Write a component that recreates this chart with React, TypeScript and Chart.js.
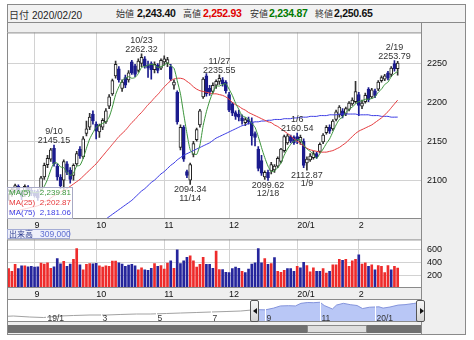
import React, { useEffect, useRef } from 'react';
import { Chart, registerables } from 'chart.js';

Chart.register(...registerables);

const NARROW = "'Liberation Sans Narrow', 'Liberation Sans', Arial, sans-serif";
const SANS = "'Liberation Sans', Arial, sans-serif";
const CJK = "'Noto Sans CJK JP', 'Noto Sans', sans-serif";

// ---------- categories: trading days ----------
const DAYS_2019_08 = [21, 22, 23, 26, 27, 28, 29, 30];
const DAYS_2019_09 = [2, 3, 4, 5, 6, 9, 10, 11, 12, 13, 17, 18, 19, 20, 24, 25, 26, 27, 30];
const DAYS_2019_10 = [1, 2, 3, 4, 7, 8, 9, 10, 11, 15, 16, 17, 18, 21, 23, 24, 25, 28, 29, 30, 31];
const DAYS_2019_11 = [1, 5, 6, 7, 8, 11, 12, 13, 14, 15, 18, 19, 20, 21, 22, 25, 26, 27, 28, 29];
const DAYS_2019_12 = [2, 3, 4, 5, 6, 9, 10, 11, 12, 13, 16, 17, 18, 19, 20, 23, 24, 25, 26, 27, 30];
const DAYS_2020_01 = [6, 7, 8, 9, 10, 14, 15, 16, 17, 20, 21, 22, 23, 24, 27, 28, 29, 30, 31];
const DAYS_2020_02 = [3, 4, 5, 6, 7, 10, 12, 13, 14, 17, 18, 19, 20];
const EMPTY_SLOTS = 7;

const MONTH_BLOCKS: Array<[string, number[]]> = [
  ['2019/08', DAYS_2019_08], ['2019/09', DAYS_2019_09], ['2019/10', DAYS_2019_10],
  ['2019/11', DAYS_2019_11], ['2019/12', DAYS_2019_12], ['2020/01', DAYS_2020_01], ['2020/02', DAYS_2020_02],
];
const DATES: string[] = MONTH_BLOCKS.flatMap(([ym, days]) => days.map((d) => `${ym}/${String(d).padStart(2, '0')}`));
const LABELS: string[] = [...DATES, ...Array(EMPTY_SLOTS).fill('')];

const MONTH_TICK_DATES = ['2019/09/02', '2019/10/01', '2019/11/01', '2019/12/02', '2020/01/06', '2020/02/03'];
const MONTH_TICK_LABELS = ['9', '10', '11', '12', '20/1', '2'];
const PRICE_TICKS = [2100, 2150, 2200, 2250];
const VOLUME_TICKS = [200, 400, 600];

// ---------- price series ----------
const OPEN = [
  2082, 2085, 2087, 2092, 2084, 2081, 2091, 2087,
  2084, 2086, 2088, 2104, 2120, 2127, 2141, 2118, 2104, 2100, 2121, 2113, 2106, 2121, 2140, 2130, 2160, 2168, 2185,
  2172, 2162, 2168, 2175, 2195, 2211, 2234, 2243, 2218, 2232, 2229, 2252, 2247, 2241, 2250, 2256, 2248, 2250, 2242, 2248, 2244,
  2252, 2250, 2246, 2222, 2213, 2142, 2168, 2111, 2100, 2133, 2152, 2171, 2207, 2234, 2218, 2214, 2222, 2227, 2229, 2226,
  2210, 2198, 2187, 2185, 2180, 2174, 2178, 2175, 2160, 2140, 2125, 2104, 2110, 2112, 2113, 2118, 2124, 2138, 2148, 2156, 2155,
  2156, 2149, 2150, 2122, 2126, 2129, 2134, 2137, 2149, 2161, 2168, 2166, 2178, 2184, 2189, 2185, 2191, 2198, 2201,
  2210, 2195, 2201, 2217, 2207, 2215, 2217, 2228, 2230, 2238, 2236, 2250, 2243.40,
];
const HIGH = [
  2088, 2090, 2095, 2094, 2087, 2094, 2093, 2090,
  2087, 2088, 2105, 2122, 2132, 2141, 2145.15, 2121, 2107, 2126, 2124, 2116, 2121, 2137, 2143, 2156, 2176, 2186, 2189,
  2175, 2172, 2179, 2192, 2210, 2230, 2253, 2246, 2229, 2235, 2241, 2254, 2249, 2256, 2262.32, 2259, 2253, 2252, 2252, 2250, 2256,
  2260, 2258, 2249, 2229, 2215, 2171, 2170, 2113, 2122, 2150, 2167, 2191, 2232, 2237, 2222, 2225, 2229, 2235.55, 2232, 2228,
  2213, 2200, 2189, 2190, 2184, 2180, 2181, 2180, 2162, 2143, 2132, 2112, 2113, 2123, 2120, 2130, 2141, 2158, 2159, 2158, 2157,
  2160.54, 2158, 2153, 2130, 2134, 2137, 2136, 2148, 2160, 2170, 2171, 2178, 2190, 2196, 2192, 2194, 2201, 2206, 2227,
  2213, 2203, 2212, 2219, 2218, 2217, 2228, 2234, 2236, 2240, 2246, 2253.79, 2252.93,
];
const LOW = [
  2074, 2079, 2084, 2083, 2075, 2079, 2084, 2080,
  2078, 2074, 2086, 2101, 2116, 2124, 2118, 2100, 2089, 2088, 2107, 2096, 2100, 2119, 2128, 2128, 2157, 2165, 2172,
  2153, 2155, 2165, 2173, 2192, 2209, 2231, 2226, 2214, 2219, 2226, 2236, 2233, 2239, 2246, 2244, 2232, 2230, 2238, 2238, 2242,
  2248, 2246, 2228, 2217, 2172, 2139, 2124, 2103, 2094.34, 2130, 2150, 2168, 2205, 2208, 2209, 2212, 2218, 2223, 2221, 2212,
  2188, 2183, 2178, 2176, 2172, 2170, 2172, 2145, 2144, 2112, 2106, 2101, 2099.62, 2108, 2110, 2116, 2122, 2136, 2146, 2148, 2146,
  2147, 2146, 2116, 2112.87, 2124, 2127, 2128, 2135, 2147, 2159, 2160, 2164, 2176, 2181, 2180, 2183, 2189, 2196, 2199,
  2183, 2192, 2199, 2201, 2205, 2206, 2215, 2226, 2228, 2229, 2233, 2240, 2234.87,
];
const CLOSE = [
  2086, 2088, 2093, 2085, 2079, 2092, 2086, 2083,
  2080, 2077, 2103, 2119, 2128, 2139, 2121, 2104, 2093, 2124, 2110, 2101, 2119, 2134, 2131, 2153, 2166, 2181, 2176,
  2163, 2170, 2177, 2189, 2207, 2228, 2249, 2229, 2226, 2222, 2238, 2238, 2236, 2253, 2258, 2247, 2244, 2242, 2249, 2241, 2254,
  2256, 2255, 2230, 2226, 2175, 2168, 2127, 2106, 2120, 2147, 2165, 2189, 2230, 2211, 2213, 2222, 2227, 2231, 2224, 2215,
  2190, 2186, 2182, 2181, 2176, 2178, 2175, 2157, 2155, 2115, 2109, 2110, 2103, 2120, 2118, 2128, 2140, 2156, 2157, 2150, 2148,
  2151, 2155, 2119, 2127, 2131, 2134, 2130, 2146, 2158, 2168, 2163, 2176, 2188, 2194, 2183, 2192, 2199, 2203, 2214,
  2196, 2199, 2209, 2203, 2216, 2209, 2226, 2232, 2234, 2231, 2244, 2243, 2250.65,
];

const MA5 = [
  2083, 2084, 2085, 2085, 2086, 2087, 2087, 2085,
  2084, 2084, 2086, 2092, 2101, 2113, 2122, 2122, 2117, 2116, 2110, 2106, 2109, 2118, 2119, 2128, 2141, 2153, 2161,
  2168, 2171, 2173, 2175, 2181, 2194, 2210, 2220, 2228, 2231, 2233, 2231, 2232, 2237, 2245, 2246, 2248, 2249, 2248, 2245, 2246,
  2248, 2251, 2247, 2244, 2228, 2211, 2185, 2160, 2139, 2134, 2133, 2145, 2170, 2188, 2202, 2213, 2221, 2221, 2223, 2224,
  2217, 2209, 2199, 2191, 2183, 2181, 2178, 2173, 2168, 2156, 2142, 2129, 2118, 2111, 2112, 2116, 2122, 2132, 2140, 2146, 2150,
  2152, 2152, 2145, 2140, 2137, 2133, 2128, 2134, 2140, 2147, 2153, 2162, 2171, 2178, 2181, 2187, 2191, 2194, 2198,
  2201, 2202, 2204, 2204, 2205, 2207, 2213, 2217, 2223, 2226, 2233, 2237, 2239.81,
];
const MA25 = [
  2060, 2060, 2061, 2061, 2062, 2063, 2064, 2065,
  2066, 2067, 2069, 2072, 2074, 2077, 2080, 2082, 2085, 2087, 2089, 2092, 2095, 2098, 2101, 2105, 2109, 2113, 2117,
  2121, 2126, 2131, 2136, 2141, 2146, 2151, 2156, 2160, 2164, 2169, 2174, 2178, 2183, 2187, 2192, 2197, 2201, 2206, 2210, 2215,
  2220, 2224, 2228, 2230, 2231, 2231, 2230, 2227, 2224, 2220, 2217, 2215, 2214, 2213, 2212, 2211, 2211, 2210, 2209, 2207,
  2204, 2200, 2197, 2195, 2192, 2190, 2187, 2185, 2183, 2181, 2179, 2177, 2175, 2174, 2171, 2169, 2166, 2163, 2160, 2157, 2153,
  2150, 2147, 2144, 2141, 2139, 2138, 2137, 2136, 2136, 2136, 2137, 2138, 2140, 2142, 2145, 2148, 2152, 2156, 2160,
  2163, 2165, 2167, 2169, 2171, 2174, 2177, 2180, 2184, 2188, 2193, 2198, 2202.87,
];
const MA75 = [
  1985, 1987, 1989, 1991, 1993, 1995, 1997, 1999,
  2001, 2003, 2005, 2007, 2009, 2011, 2013, 2015, 2018, 2020, 2022, 2024, 2027, 2029, 2031, 2033, 2036, 2038, 2040,
  2042, 2045, 2047, 2050, 2053, 2056, 2059, 2062, 2065, 2068, 2071, 2074, 2078, 2082, 2086, 2089, 2093, 2097, 2100, 2104, 2108,
  2111, 2115, 2119, 2122, 2126, 2129, 2132, 2134, 2136, 2138, 2140, 2142, 2144, 2146, 2148, 2151, 2154, 2156, 2158, 2160,
  2162, 2164, 2166, 2168, 2170, 2171, 2173, 2174, 2175, 2175, 2176, 2176, 2177, 2177, 2178, 2178, 2178, 2179, 2179, 2179, 2180,
  2180, 2181, 2181, 2181, 2182, 2182, 2182, 2183, 2183, 2183, 2184, 2184, 2184, 2185, 2185, 2185, 2185, 2185, 2185,
  2184, 2184, 2184, 2184, 2183, 2183, 2183, 2182, 2182, 2182, 2181, 2181, 2181.06,
];

// ---------- volume (thousand shares) ----------
const VOLUME = [
  300, 258, 366, 300, 343, 343, 326, 334,
  322, 326, 386, 369, 390, 305, 326, 453, 373, 411, 334, 369, 441, 610, 356, 280, 364, 377, 373,
  381, 343, 322, 343, 334, 415, 415, 390, 369, 334, 352, 364, 343, 280, 313, 280, 271, 305, 377, 334, 347,
  292, 386, 419, 305, 589, 377, 419, 474, 495, 419, 322, 364, 474, 364, 364, 305, 568, 284, 284, 242,
  237, 300, 322, 305, 258, 237, 292, 369, 390, 610, 390, 453, 364, 377, 470, 258, 242, 271, 300, 300, 258,
  335, 313, 398, 347, 250, 313, 258, 258, 301, 229, 258, 356, 356, 441, 428, 441, 335, 420, 441,
  513, 369, 390, 335, 356, 280, 347, 335, 237, 347, 280, 335, 309,
];
const VOLUME_UP = [
  1, 1, 1, 0, 0, 1, 0, 0,
  0, 0, 1, 1, 1, 1, 0, 0, 0, 1, 0, 0, 1, 1, 0, 1, 1, 1, 0,
  0, 1, 1, 1, 1, 1, 1, 0, 0, 0, 0, 0, 0, 1, 1, 0, 0, 0, 1, 0, 1,
  1, 1, 0, 1, 0, 0, 0, 0, 1, 1, 1, 1, 1, 0, 0, 0, 1, 1, 0, 0,
  0, 0, 0, 0, 1, 0, 0, 0, 0, 0, 0, 1, 0, 1, 0, 1, 1, 1, 0, 0, 0,
  1, 0, 0, 1, 1, 1, 0, 0, 1, 1, 0, 1, 1, 1, 0, 1, 1, 1, 1,
  0, 1, 1, 0, 1, 0, 1, 1, 1, 1, 0, 1, 1,
];

// ---------- high / low annotations ----------
const HL_DATES = ['2019/09/10', '2019/10/23', '2019/11/14', '2019/11/27', '2019/12/18', '2020/01/06', '2020/01/09', '2020/02/19'];
const HL_TEXT = ['9/10', '10/23', '11/14', '11/27', '12/18', '1/6', '1/9', '2/19'];
const HL_VALUE = [2145.15, 2262.32, 2094.34, 2235.55, 2099.62, 2160.54, 2112.87, 2253.79];
const HL_KIND = ['H', 'H', 'L', 'H', 'L', 'H', 'L', 'H'];

// ---------- navigator (months since 2018/11/01) ----------
const NAV_T = [0.4, 0.8, 1.4, 1.9, 2.5, 3.0, 3.6, 4.2, 4.7, 5.3, 5.8, 6.4, 6.9, 7.5, 8.0, 8.6, 9.1, 9.65,
  10.0, 10.3, 10.55, 10.85, 11.1, 11.3, 11.55, 11.75, 12.0, 12.15, 12.45, 12.6, 12.85, 13.1, 13.35, 13.55,
  13.8, 14.15, 14.3, 14.55, 14.85, 15.1, 15.4, 15.65];
const NAV_V = [1926, 1938, 1915, 1903, 1938, 1950, 1961, 1961, 1973, 1984, 1984, 1996, 2007, 2019, 2030, 2042, 2053, 2085,
  2080, 2120, 2170, 2176, 2170, 2230, 2250, 2245, 2255, 2180, 2100, 2190, 2230, 2200, 2180, 2110,
  2140, 2150, 2120, 2145, 2190, 2200, 2225, 2250];
const NAV_SELECT_START = 9.65;
const NAV_TICK_T = [2, 4, 6, 8, 10, 12, 14];
const NAV_TICK_LABELS = ['19/1', '3', '5', '7', '9', '11', '20/1'];

// ---------- colours ----------
const DOWN = '#1c1c8e';
const UP_EDGE = '#222222';
const RED_VOL = '#ee2b2b';
const BLUE_VOL = '#25259c';
const C_MA5 = '#3d963d';
const C_MA25 = '#e6393c';
const C_MA75 = '#3b3be4';
const GRID = '#d2d2d2';
const FRAME = '#8a8a8a';
const TICK_FONT = 9;

const monthIdx = MONTH_TICK_DATES.map((d) => DATES.indexOf(d));
const isUp = CLOSE.map((c, i) => c >= OPEN[i]);
const fmt = (v: number) => v.toLocaleString('en-US', { minimumFractionDigits: 2, maximumFractionDigits: 2 });

const framePlugin = {
  id: 'panelFrame',
  beforeDraw(chart: any) {
    const { ctx, chartArea: a } = chart;
    ctx.save();
    ctx.fillStyle = '#ffffff';
    ctx.fillRect(a.left, a.top, a.right - a.left, a.bottom - a.top);
    ctx.restore();
  },
  afterDraw(chart: any) {
    const { ctx, chartArea: a } = chart;
    ctx.save();
    ctx.strokeStyle = FRAME;
    ctx.lineWidth = 1;
    ctx.strokeRect(a.left + 0.5, a.top + 0.5, a.right - a.left - 1, a.bottom - a.top - 1);
    ctx.restore();
  },
};

const hlPlugin = {
  id: 'hlLabels',
  afterDatasetsDraw(chart: any) {
    const { ctx } = chart;
    const x = chart.scales.x;
    const y = chart.scales.y;
    ctx.save();
    ctx.font = `${TICK_FONT}px ${NARROW}`;
    ctx.fillStyle = '#333333';
    ctx.textAlign = 'center';
    ctx.textBaseline = 'middle';
    HL_DATES.forEach((d, k) => {
      const px = x.getPixelForValue(DATES.indexOf(d));
      const py = y.getPixelForValue(HL_VALUE[k]);
      const val = HL_VALUE[k].toFixed(2);
      if (HL_KIND[k] === 'H') {
        ctx.fillText(HL_TEXT[k], px, py - 13.5);
        ctx.fillText(val, px, py - 4.5);
      } else {
        ctx.fillText(val, px, py + 5);
        ctx.fillText(HL_TEXT[k], px, py + 13.5);
      }
    });
    ctx.restore();
  },
};

const navPlugin = {
  id: 'navTicks',
  afterDatasetsDraw(chart: any) {
    const { ctx, chartArea: a } = chart;
    const x = chart.scales.x;
    ctx.save();
    ctx.strokeStyle = '#ffffff';
    ctx.lineWidth = 1;
    ctx.font = `8.5px ${NARROW}`;
    ctx.fillStyle = '#333333';
    ctx.textAlign = 'left';
    ctx.textBaseline = 'middle';
    NAV_TICK_T.forEach((t, k) => {
      const px = Math.round(x.getPixelForValue(t)) + 0.5;
      ctx.beginPath();
      ctx.moveTo(px, a.top);
      ctx.lineTo(px, a.bottom);
      ctx.stroke();
      ctx.fillText(NAV_TICK_LABELS[k], px + 1, a.bottom - 3.5);
    });
    ctx.restore();
  },
};

function xAxis() {
  return {
    type: 'category',
    offset: true,
    grid: {
      offset: false,
      drawTicks: false,
      lineWidth: 1,
      color: (c: any) => (monthIdx.includes(c.index) ? GRID : 'rgba(0,0,0,0)'),
    },
    border: { display: false },
    ticks: {
      autoSkip: false,
      maxRotation: 0,
      minRotation: 0,
      padding: 1,
      align: 'start',
      color: '#111111',
      font: { family: NARROW, size: TICK_FONT },
      callback: (_v: any, i: number) => {
        const k = monthIdx.indexOf(i);
        return k >= 0 ? MONTH_TICK_LABELS[k] : '';
      },
    },
    afterFit: (s: any) => {
      s.height = 11;
    },
  };
}

function yAxis(min: number, max: number, ticks: number[]) {
  return {
    position: 'right',
    min,
    max,
    afterBuildTicks: (s: any) => {
      s.ticks = ticks.map((v) => ({ value: v }));
    },
    grid: { color: GRID, drawTicks: false, lineWidth: 1 },
    border: { display: false },
    ticks: {
      padding: 5,
      color: '#111111',
      font: { family: NARROW, size: TICK_FONT },
      callback: (v: any) => String(v),
    },
    afterFit: (s: any) => {
      s.width = 44;
    },
  };
}

function PriceChart() {
  const ref = useRef<HTMLCanvasElement>(null);
  useEffect(() => {
    const chart = new Chart(ref.current as HTMLCanvasElement, {
      type: 'bar',
      data: {
        labels: LABELS,
        datasets: [
          {
            type: 'line', data: MA5, borderColor: C_MA5, borderWidth: 1, pointRadius: 0, tension: 0.2, order: 0,
          } as any,
          {
            type: 'line', data: MA25, borderColor: C_MA25, borderWidth: 1, pointRadius: 0, tension: 0.2, order: 0,
          } as any,
          {
            type: 'line', data: MA75, borderColor: C_MA75, borderWidth: 1, pointRadius: 0, tension: 0.2, order: 0,
          } as any,
          {
            type: 'bar',
            data: OPEN.map((o, i) => [Math.min(o, CLOSE[i]), Math.max(o, CLOSE[i])]),
            backgroundColor: isUp.map((u) => (u ? '#ffffff' : DOWN)),
            borderColor: isUp.map((u) => (u ? UP_EDGE : DOWN)),
            borderWidth: 1,
            borderSkipped: false,
            barThickness: 3,
            grouped: false,
            order: 1,
          } as any,
          {
            type: 'bar',
            data: LOW.map((l, i) => [l, HIGH[i]]),
            backgroundColor: isUp.map((u) => (u ? '#333333' : DOWN)),
            borderWidth: 0,
            barThickness: 1,
            grouped: false,
            order: 2,
          } as any,
        ],
      },
      options: {
        responsive: false,
        maintainAspectRatio: false,
        animation: false,
        events: [],
        layout: { padding: { left: 0, top: 1, right: 0, bottom: 0 } },
        plugins: { legend: { display: false }, tooltip: { enabled: false } },
        scales: { x: xAxis() as any, y: yAxis(2050, 2290, PRICE_TICKS) as any },
      },
      plugins: [framePlugin, hlPlugin],
    });
    return () => chart.destroy();
  }, []);
  return (
    <canvas ref={ref} width={459} height={208}
      style={{ position: 'absolute', left: 7, top: 22, width: 459, height: 208 }} />
  );
}

function VolumeChart() {
  const ref = useRef<HTMLCanvasElement>(null);
  useEffect(() => {
    const chart = new Chart(ref.current as HTMLCanvasElement, {
      type: 'bar',
      data: {
        labels: LABELS,
        datasets: [
          {
            data: VOLUME,
            backgroundColor: VOLUME_UP.map((u) => (u ? RED_VOL : BLUE_VOL)),
            borderWidth: 0,
            barThickness: 2,
            grouped: false,
          } as any,
        ],
      },
      options: {
        responsive: false,
        maintainAspectRatio: false,
        animation: false,
        events: [],
        layout: { padding: { left: 0, top: 0, right: 0, bottom: 0 } },
        plugins: { legend: { display: false }, tooltip: { enabled: false } },
        scales: { x: xAxis() as any, y: yAxis(0, 750, VOLUME_TICKS) as any },
      },
      plugins: [framePlugin],
    });
    return () => chart.destroy();
  }, []);
  return (
    <canvas ref={ref} width={459} height={70}
      style={{ position: 'absolute', left: 7, top: 229, width: 459, height: 70 }} />
  );
}

function NavigatorChart() {
  const ref = useRef<HTMLCanvasElement>(null);
  useEffect(() => {
    const pts = NAV_T.map((t, i) => ({ x: t, y: NAV_V[i] }));
    const chart = new Chart(ref.current as HTMLCanvasElement, {
      type: 'line',
      data: {
        datasets: [
          {
            data: pts.filter((p) => p.x <= NAV_SELECT_START),
            borderColor: '#a2a2a2', borderWidth: 1, pointRadius: 0, fill: false,
          },
          {
            data: pts.filter((p) => p.x >= NAV_SELECT_START),
            borderColor: '#8494dc', backgroundColor: '#b9c7f6', borderWidth: 1, pointRadius: 0, fill: 'start',
          },
        ],
      },
      options: {
        responsive: false,
        maintainAspectRatio: false,
        animation: false,
        events: [],
        layout: { padding: { left: 0, top: 1, right: 44, bottom: 2 } },
        plugins: { legend: { display: false }, tooltip: { enabled: false } },
        scales: {
          x: { type: 'linear', min: 0.57, max: 15.72, display: false },
          y: { min: 1800, max: 2330, display: false },
        },
      },
      plugins: [framePlugin, navPlugin],
    });
    return () => chart.destroy();
  }, []);
  return (
    <canvas ref={ref} width={459} height={26}
      style={{ position: 'absolute', left: 7, top: 298, width: 459, height: 26 }} />
  );
}

const abs = (s: React.CSSProperties): React.CSSProperties => ({ position: 'absolute', ...s });

function Handle({ left, dir }: { left: number; dir: 'l' | 'r' }) {
  return (
    <div style={abs({
      left, top: 300, width: 9, height: 22, boxSizing: 'border-box', border: '1px solid #555',
      borderRadius: 2, background: 'linear-gradient(#f6f6f6, #d4d4d4)',
    })}>
      <div style={abs({
        left: dir === 'l' ? 2 : 3, top: 7, width: 0, height: 0,
        borderTop: '3px solid transparent', borderBottom: '3px solid transparent',
        ...(dir === 'l' ? { borderRight: '4px solid #111' } : { borderLeft: '4px solid #111' }),
      })} />
    </div>
  );
}

export default function App() {
  const last = OPEN.length - 1;
  const hdrLabel: React.CSSProperties = { fontFamily: CJK, fontSize: 9, color: '#333' };
  const hdrVal: React.CSSProperties = { fontFamily: SANS, fontSize: 10.5, fontWeight: 'bold', letterSpacing: -0.3 };
  const headerItems: Array<[number, string, number, string, string]> = [
    [108, '始値', 129, fmt(OPEN[last]), '#111'],
    [175, '高値', 195, fmt(HIGH[last]), '#e00000'],
    [242, '安値', 261, fmt(LOW[last]), '#007a00'],
    [307, '終値', 326, fmt(CLOSE[last]), '#111'],
  ];
  const legendRows: Array<[string, string, string]> = [
    ['MA(5)', fmt(MA5[last]), C_MA5],
    ['MA(25)', fmt(MA25[last]), C_MA25],
    ['MA(75)', fmt(MA75[last]), C_MA75],
  ];
  return (
    <div style={abs({ left: 0, top: 0, width: 474, height: 340, background: '#ffffff', overflow: 'hidden' })}>
      <div style={abs({ left: 7, top: 4, width: 459, height: 331, boxSizing: 'border-box', border: `1px solid ${FRAME}`, background: '#efefef' })} />
      <div style={abs({ left: 7, top: 4, width: 459, height: 19, boxSizing: 'border-box', border: `1px solid ${FRAME}`, background: '#f2f2f2' })}>
        <span style={abs({ left: 1, top: 0, lineHeight: '17px', whiteSpace: 'nowrap' })}>
          <span style={{ ...hdrLabel, fontSize: 10 }}>日付</span>
          <span style={{ fontFamily: SANS, fontSize: 10, color: '#222', marginLeft: 3 }}>2020/02/20</span>
        </span>
        {headerItems.map(([lx, lab, vx, val, col]) => (
          <React.Fragment key={lab}>
            <span style={abs({ left: lx, top: 0, lineHeight: '17px', whiteSpace: 'nowrap', ...hdrLabel })}>{lab}</span>
            <span style={abs({ left: vx, top: 0, lineHeight: '17px', whiteSpace: 'nowrap', color: col, ...hdrVal })}>{val}</span>
          </React.Fragment>
        ))}
      </div>
      <PriceChart />
      <VolumeChart />
      <NavigatorChart />
      <div style={abs({ left: 421, top: 23, width: 1, height: 311, background: FRAME })} />
      <div style={abs({
        left: 7, top: 187, width: 66, height: 32, boxSizing: 'border-box', border: '1px solid #a8aac4',
        background: 'rgba(255,255,255,0.78)', padding: '0 1px',
      })}>
        {legendRows.map(([lab, val, col]) => (
          <div key={lab} style={{
            display: 'flex', justifyContent: 'space-between', height: 10, lineHeight: '10px',
            fontFamily: NARROW, fontSize: 8, color: col, whiteSpace: 'nowrap',
          }}>
            <span>{lab}</span>
            <span>{val}</span>
          </div>
        ))}
      </div>
      <div style={abs({
        left: 7, top: 229, width: 63, height: 10, boxSizing: 'border-box', border: '1px solid #a4acd4',
        background: '#eef0fb', whiteSpace: 'nowrap',
      })}>
        <span style={abs({ left: 1, top: -1, lineHeight: '10px', fontFamily: CJK, fontSize: 8, color: '#2b3a8e' })}>出来高</span>
        <span style={abs({ left: 32, top: -1, lineHeight: '10px', fontFamily: NARROW, fontSize: 8.5, color: '#5f6fd2' })}>
          {(VOLUME[last] * 1000).toLocaleString('en-US')}
        </span>
      </div>
      <Handle left={250} dir="l" />
      <Handle left={416} dir="r" />
      <div style={abs({ left: 8, top: 325, width: 413, height: 8, background: '#707070' })} />
      <div style={abs({
        left: 307, top: 325, width: 60, height: 8, boxSizing: 'border-box', border: '1px solid #8a8a8a',
        background: '#dedede', borderRadius: 1,
      })} />
    </div>
  );
}
